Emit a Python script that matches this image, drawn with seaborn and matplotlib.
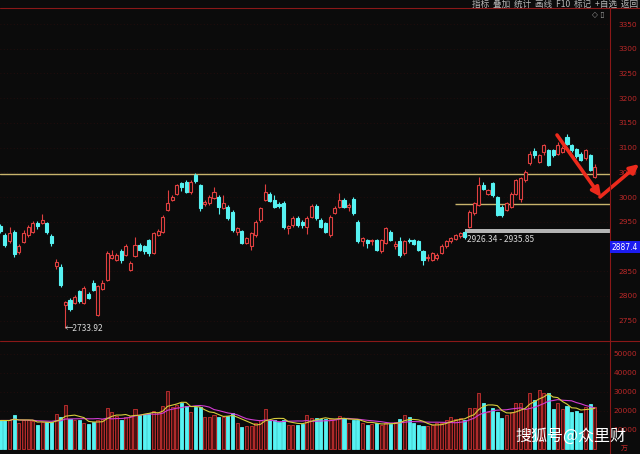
import numpy as np
import pandas as pd
import matplotlib
matplotlib.use("Agg")
import matplotlib.pyplot as plt
import seaborn as sns
from matplotlib.lines import Line2D

# daily candles
opens = [2942, 2923, 2910, 2930, 2889, 2909, 2923, 2930, 2948, 2948,
         2948, 2922, 2860, 2859, 2781, 2792, 2786, 2809, 2786, 2804,
         2826, 2762, 2814, 2832, 2877, 2873, 2890, 2883, 2853, 2881,
         2903, 2900, 2913, 2887, 2924, 2929, 2974, 2994, 3007, 3028,
         3031, 3011, 3044, 3024, 2985, 2987, 2998, 3001, 2978, 2980,
         2970, 2930, 2931, 2907, 2900, 2923, 2953, 2994, 3007, 2994,
         2986, 2988, 2937, 2943, 2958, 2950, 2940, 2960, 2982, 2954,
         2947, 2923, 2968, 2980, 2994, 2980, 2995, 2950, 2910, 2913,
         2910, 2913, 2890, 2907, 2930, 2901, 2910, 2886, 2913, 2912,
         2910, 2890, 2876, 2873, 2876, 2887, 2900, 2910, 2915, 2921,
         2929, 2940, 2967, 2984, 3024, 3007, 3028, 3000, 2980, 2974,
         2980, 3007, 2995, 3034, 3068, 3093, 3071, 3092, 3095, 3095,
         3088, 3092, 3122, 3105, 3097, 3088, 3078, 3085, 3041]
closes = [2932, 2903, 2927, 2884, 2901, 2927, 2939, 2947, 2941, 2953,
          2930, 2907, 2869, 2822, 2788, 2773, 2798, 2789, 2816, 2796,
          2812, 2819, 2826, 2887, 2883, 2883, 2873, 2901, 2867, 2903,
          2893, 2890, 2887, 2927, 2932, 2960, 2988, 3001, 3024, 3021,
          3011, 3031, 3032, 2978, 2990, 3001, 3010, 2980, 2988, 2957,
          2933, 2937, 2907, 2917, 2927, 2950, 2977, 3011, 2992, 2980,
          2982, 2940, 2941, 2958, 2943, 2943, 2958, 2982, 2957, 2940,
          2930, 2960, 2978, 2994, 2980, 2984, 2967, 2910, 2917, 2907,
          2913, 2893, 2913, 2937, 2913, 2905, 2883, 2910, 2910, 2905,
          2893, 2873, 2879, 2886, 2883, 2901, 2910, 2917, 2923, 2927,
          2920, 2970, 2987, 3024, 3017, 3014, 3004, 2964, 2964, 2987,
          3007, 3034, 3038, 3051, 3088, 3085, 3085, 3105, 3065, 3085,
          3105, 3100, 3108, 3095, 3082, 3075, 3095, 3055, 3061]
highs = [2946, 2927, 2939, 2933, 2905, 2934, 2943, 2951, 2952, 2966,
         2950, 2926, 2874, 2864, 2790, 2796, 2801, 2812, 2820, 2807,
         2833, 2822, 2833, 2890, 2893, 2886, 2894, 2905, 2870, 2920,
         2906, 2903, 2916, 2930, 2935, 2963, 3015, 3004, 3027, 3030,
         3034, 3034, 3048, 3027, 2994, 3004, 3020, 3004, 3005, 2983,
         2973, 2940, 2934, 2920, 2930, 2953, 2980, 3026, 3010, 3004,
         2990, 2991, 2944, 2961, 2961, 2953, 2961, 2985, 2985, 2957,
         2950, 2963, 2981, 3009, 2997, 2988, 3000, 2953, 2920, 2916,
         2916, 2916, 2916, 2940, 2933, 2910, 2920, 2913, 2917, 2915,
         2913, 2893, 2885, 2889, 2886, 2904, 2913, 2920, 2926, 2930,
         2931, 2973, 2990, 3041, 3031, 3017, 3031, 3003, 2983, 2990,
         3010, 3037, 3041, 3054, 3093, 3100, 3088, 3108, 3098, 3098,
         3112, 3103, 3128, 3108, 3100, 3091, 3098, 3088, 3066]
lows = [2928, 2899, 2907, 2878, 2884, 2906, 2920, 2928, 2936, 2946,
        2926, 2901, 2855, 2818, 2733.92, 2770, 2784, 2786, 2784, 2793,
        2809, 2759, 2811, 2829, 2875, 2870, 2866, 2880, 2850, 2878,
        2890, 2885, 2880, 2885, 2922, 2927, 2971, 2991, 3004, 3012,
        3008, 3006, 3029, 2972, 2982, 2984, 2996, 2965, 2975, 2954,
        2930, 2924, 2904, 2904, 2893, 2920, 2950, 2991, 2989, 2977,
        2978, 2936, 2925, 2940, 2940, 2937, 2925, 2957, 2954, 2937,
        2927, 2920, 2965, 2977, 2977, 2972, 2964, 2907, 2900, 2897,
        2903, 2890, 2886, 2904, 2910, 2895, 2878, 2883, 2906, 2902,
        2890, 2863, 2871, 2870, 2873, 2884, 2897, 2907, 2912, 2918,
        2916, 2937, 2964, 2981, 3014, 3004, 3001, 2961, 2960, 2971,
        2977, 3004, 2990, 3031, 3065, 3078, 3068, 3085, 3062, 3080,
        3085, 3089, 3105, 3092, 3079, 3072, 3075, 3052, 3038]
volumes = [15000, 15000, 15000, 17900, 13500, 15000, 15000, 14600, 12800, 14000,
           14000, 14000, 18400, 16600, 23200, 15600, 15300, 15000, 13500, 13300,
           14000, 15300, 15600, 21600, 19300, 17500, 15300, 17000, 17500, 21000,
           17900, 18200, 19100, 20200, 19600, 22600, 30700, 22300, 23200, 24000,
           22600, 19600, 22300, 21900, 16800, 17000, 17900, 17000, 17000, 17500,
           18900, 13500, 11800, 12100, 12100, 13500, 15300, 21000, 15300, 15000,
           14000, 15000, 12800, 12800, 12800, 13100, 17900, 16500, 16500, 15600,
           15600, 15600, 15600, 17500, 16500, 13500, 15300, 15000, 13500, 12800,
           13300, 13500, 12800, 13500, 13300, 14000, 15600, 17900, 16800, 13500,
           12800, 12100, 12100, 12800, 13500, 13500, 15300, 16800, 15600, 16500,
           15300, 21400, 21400, 29300, 24200, 19600, 21400, 19600, 16500, 17900,
           19300, 24200, 24200, 21100, 29300, 25800, 31100, 29600, 29300, 21000,
           24200, 21000, 22600, 19600, 20200, 19100, 22300, 23700, 21900]

price_ticks = [2750, 2800, 2850, 2950, 3000, 3050, 3100, 3150, 3200, 3250, 3300, 3350]
vol_ticks = [10000, 20000, 30000, 40000, 50000]
resistance = 3046
support = 2986
band = (2926.34, 2935.85)
low_label = "←2733.92"
band_label = "2926.34 - 2935.85"
cursor_label = "2887.4"
menu = "指标  叠加  统计  画线  F10  标记  +自选  返回"
watermark = "搜狐号@众里财"

BG = "#0b0b0b"
RED = "#e04040"
CYAN = "#56f2f2"
AXRED = "#8a1818"
TICKRED = "#bc2828"

sns.set_theme(style="dark", rc={"axes.facecolor": BG, "figure.facecolor": BG})
plt.rcParams["font.family"] = ["Noto Sans CJK SC", "DejaVu Sans"]

df = pd.DataFrame({"o": opens, "h": highs, "l": lows, "c": closes, "v": volumes})
df["i"] = np.arange(len(df))
df["up"] = df["c"] >= df["o"]
df["ma5"] = df["v"].rolling(5, min_periods=1).mean()
df["ma10"] = df["v"].rolling(10, min_periods=1).mean()

W, H = 640, 454
fig = plt.figure(figsize=(6.4, 4.54), dpi=100)
ax = fig.add_axes([0, 1 - 340 / H, 610 / W, 332 / H])
axv = fig.add_axes([0, 4 / H, 610 / W, 107 / H])

xlim = (-0.065, 131.26)


def right_labels(a, ticks):
    # tick labels right-aligned against the figure edge, like the terminal does
    a.yaxis.tick_right()
    a.set_yticks(ticks)
    a.set_yticklabels([str(t) for t in ticks], family="DejaVu Sans")
    a.tick_params(axis="y", length=0, pad=19.5, labelcolor=TICKRED, labelsize=5.4)
    for lab in a.get_yticklabels():
        lab.set_horizontalalignment("right")


# price panel
for _, r in df.iterrows():
    col = RED if r.up else CYAN
    ax.vlines(r.i, r.l, r.h, color=col, lw=0.8, zorder=2)
    lo, hi = min(r.o, r.c), max(r.o, r.c)
    ax.bar(r.i, max(hi - lo, 1.2), bottom=lo, width=0.66,
           facecolor=BG if r.up else CYAN, edgecolor=col, lw=0.8, zorder=3)

ax.axhline(resistance, color="#c8b46c", lw=1.0, zorder=1)
ax.hlines(support, 97.9, xlim[1], color="#c8b46c", lw=1.0, zorder=1)
ax.axhspan(band[0], band[1], xmin=(465 / 610), xmax=1, color="#b4b4b4", lw=0, zorder=1)
ax.text(100.5, 2915, band_label, color="#d8d8d8", fontsize=6, va="center", ha="left")
ax.text(13.8, 2734, low_label, color="#d8d8d8", fontsize=6, va="center", ha="left")

ax.set_xlim(*xlim)
ax.set_ylim(2710.6, 3382.5)
ax.set_xticks([])
right_labels(ax, price_ticks)
ax.grid(axis="y", color="#2a0d0d", ls=(0, (1, 3)), lw=0.6)
for s in ax.spines.values():
    s.set_visible(False)

# volume panel
for _, r in df.iterrows():
    if r.up:
        axv.bar(r.i, r.v, width=0.66, facecolor="#4a1212", edgecolor="#c83030", lw=0.6)
    else:
        axv.bar(r.i, r.v, width=0.66, facecolor=CYAN, edgecolor=CYAN, lw=0.6)
sns.lineplot(data=df, x="i", y="ma10", ax=axv, color="#d23cd2", lw=0.8)
sns.lineplot(data=df, x="i", y="ma5", ax=axv, color="#d6cc3c", lw=0.8)
axv.set_xlim(*xlim)
axv.set_ylim(-526, 55760)
axv.set_xticks([])
axv.set_xlabel("")
axv.set_ylabel("")
right_labels(axv, vol_ticks)
axv.grid(axis="y", color="#2a0d0d", ls=(0, (1, 3)), lw=0.6)
for s in axv.spines.values():
    s.set_visible(False)

# frame lines
fig.add_artist(Line2D([610 / W] * 2, [0, 1 - 8 / H], color=AXRED, lw=0.8))
fig.add_artist(Line2D([0, 1], [1 - 8 / H] * 2, color=AXRED, lw=0.8))
fig.add_artist(Line2D([0, 1], [1 - 341 / H] * 2, color=AXRED, lw=0.8))

fig.text(1 - 2 / W, 1 - 4 / H, menu, color="#b8b8b8", fontsize=6.2, ha="right", va="center")
fig.text(598 / W, 1 - 15 / H, "◇ ▯", color="#9a9a9a", fontsize=5.5, ha="center", va="center",
         family=["DejaVu Sans"])
fig.text(612 / W, 1 - 247 / H, cursor_label, color="white", fontsize=5.5, ha="left", va="center",
         family=["DejaVu Sans"], bbox=dict(boxstyle="square,pad=0.25", fc="#1c1cf0", ec="none"))
fig.text(624 / W, 1 - 449 / H, "万", color=TICKRED, fontsize=5, ha="center", va="center")

# hand-drawn red arrows
arrow = dict(arrowstyle="-|>", color="#ec2a1c", lw=2.6, mutation_scale=13,
             shrinkA=0, shrinkB=0)
ax.annotate("", xy=(601, H - 197), xytext=(557, H - 135), xycoords="figure pixels",
            textcoords="figure pixels", arrowprops=arrow, annotation_clip=False)
ax.annotate("", xy=(639, H - 164), xytext=(600, H - 197), xycoords="figure pixels",
            textcoords="figure pixels", arrowprops=arrow, annotation_clip=False)

fig.text(571 / W, 1 - 436 / H, watermark, color="white", fontsize=11.5, ha="center",
         va="center", weight="medium")

fig.savefig("out.png", dpi=100, facecolor=BG)
